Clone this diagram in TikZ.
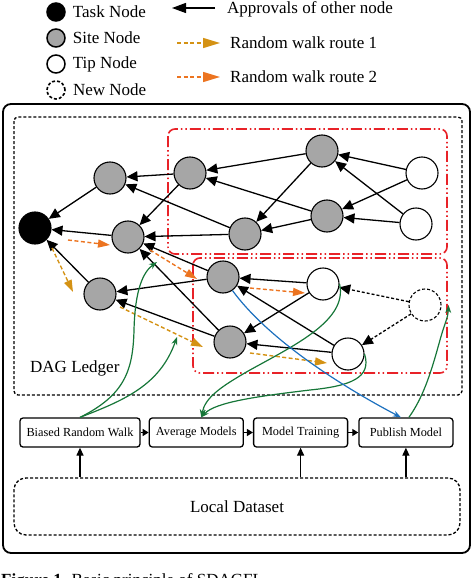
\documentclass[tikz,border=0pt]{standalone}
\usepackage{fontspec}
\setmainfont{Liberation Serif}
\usepackage{tikz}
\usetikzlibrary{positioning}
\usetikzlibrary{arrows.meta}
\usetikzlibrary{calc}
\definecolor{sitegray}{RGB}{166,166,166}
\definecolor{routeone}{RGB}{212,146,20}
\definecolor{routetwo}{RGB}{236,116,32}
\definecolor{zonered}{RGB}{232,34,40}
\definecolor{walkgreen}{RGB}{22,118,56}
\definecolor{modelblue}{RGB}{28,112,190}
\tikzset{task node/.style={circle,fill=black,draw,minimum size=32pt,inner sep=0pt,line width=1.1pt},
  site node/.style={circle,fill=sitegray,draw,minimum size=32pt,inner sep=0pt,line width=1.1pt},
  tip node/.style={circle,fill=white,draw,minimum size=32pt,inner sep=0pt,line width=1.1pt},
  new node/.style={circle,draw,dash pattern=on 3pt off 2pt,minimum size=32pt,inner sep=0pt,line width=1.1pt},
  legend text/.style={inner sep=0pt,font=\fontsize{17}{20}\selectfont},
  approve/.style={-{Triangle[length=11pt,width=10pt]},line width=1.3pt},
  route one/.style={routeone,dash pattern=on 4pt off 2.5pt,line width=1.4pt,-{Triangle[length=12pt,width=8pt]}},
  route two/.style={routetwo,dash pattern=on 4pt off 2.5pt,line width=1.4pt,-{Triangle[length=12pt,width=8pt]}},
  walk/.style={walkgreen,line width=1.2pt,-{Stealth[length=8pt,width=6pt]}},
  model/.style={modelblue,line width=1.2pt,-{Stealth[length=8pt,width=6pt]}},
  flow/.style={-{Triangle[length=8pt,width=7pt]},line width=1.3pt},
  stage/.style={draw,rounded corners=3pt,line width=1.3pt,minimum height=29pt,inner sep=0pt,font=\fontsize{12.3}{14}\selectfont},
  ledger/.style={dash pattern=on 3pt off 2pt,line width=1.3pt},
  zone/.style={zonered,line width=1.6pt,rounded corners=7pt,dash pattern=on 11pt off 3pt on 1.5pt off 3pt on 1.5pt off 3pt},
}
\begin{document}
\begin{tikzpicture}[x=1pt,y=-1pt]
    \useasboundingbox (0,0) rectangle (474,578);

    % legend
    \node[task node,minimum size=18pt,line width=1.5pt] (lt) at (56,12) {};
    \node[legend text,right=7pt of lt] (ltx) {Task Node};
    \node[site node,minimum size=18pt,line width=1.5pt] (ls) at (56,38) {};
    \node[legend text,right=7pt of ls] (lsx) {Site Node};
    \node[tip node,minimum size=18pt,line width=1.5pt] (lp) at (56,64) {};
    \node[legend text,right=7pt of lp] (lpx) {Tip Node};
    \node[new node,minimum size=18pt,line width=1.6pt] (ln) at (56,90) {};
    \node[legend text,right=7pt of ln] (lnx) {New Node};
    \coordinate (ap1) at (215,8);
    \coordinate (ap0) at (172,8);
    \draw[approve,-{Triangle[length=14pt,width=10pt]}] (ap1) -- (ap0);
    \node[legend text,right=12pt of ap1,yshift=-1.5pt] (apx) {Approvals of other node};
    \coordinate (ra0) at (177,43);
    \coordinate (ra1) at (220,43);
    \draw[route one,-{Triangle[length=17pt,width=10pt]}] (ra0) -- (ra1);
    \node[legend text,right=10pt of ra1] (rax) {Random walk route 1};
    \coordinate (rb0) at (177,77);
    \coordinate (rb1) at (220,77);
    \draw[route two,-{Triangle[length=17pt,width=10pt]}] (rb0) -- (rb1);
    \node[legend text,right=10pt of rb1] (rbx) {Random walk route 2};

    % frames
    \draw[line width=1.8pt,rounded corners=8pt] (3,104) rectangle (470,553);
    \draw[ledger,rounded corners=4pt] (14,117) rectangle (462,395);
    \draw[zone] (168,129) rectangle (447,254);
    \draw[zone] (193,258) rectangle (447,373);
    \node[legend text,anchor=west] (dag) at (30,368) {DAG Ledger};

    % DAG
    \node[task node] (t) at (35,228) {};
    \node[site node] (s1) at (110,178) {};
    \node[site node] (s2) at (128,237) {};
    \node[site node] (s3) at (100,294) {};
    \node[site node] (s4) at (190,173) {};
    \node[site node] (s5) at (322,151) {};
    \node[site node] (s6) at (327,216) {};
    \node[site node] (s7) at (245,234) {};
    \node[site node] (s8) at (223,277) {};
    \node[site node] (s9) at (230,342) {};
    \node[tip node] (p1) at (422,173) {};
    \node[tip node] (p2) at (416,224) {};
    \node[tip node] (p3) at (323,284) {};
    \node[tip node] (p4) at (348,354) {};
    \node[new node] (n) at (425,305) {};

    \path[approve]
    (s1) edge (t)
    (s2) edge (t)
    (s3) edge (t)
    (s4) edge (s1)
    (s7) edge (s1)
    (s4) edge (s2)
    (s7) edge (s2)
    (s8) edge (s2)
    (s9) edge (s2)
    (s8) edge (s3)
    (s9) edge (s3)
    (s5) edge (s4)
    (s6) edge (s4)
    (s5) edge (s7)
    (s6) edge (s7)
    (p1) edge (s5)
    (p2) edge (s5)
    (p1) edge (s6)
    (p2) edge (s6)
    (p3) edge (s8)
    (p4) edge (s8)
    (p3) edge (s9)
    (p4) edge (s9);
    \path[approve,dash pattern=on 3pt off 2pt]
    (n) edge (p3)
    (n) edge (p4);

    \draw[route one] ([shift={(17,20)}]t.center) -- ([shift={(-27,-2)}]s3.center);
    \draw[route one] ([shift={(20,13)}]s3.center) -- ([shift={(-27,5)}]s9.center);
    \draw[route one] ([shift={(20,11)}]s9.center) -- ([shift={(-21,9)}]p4.center);
    \draw[route two] ([shift={(33,12)}]t.center) -- ([shift={(-18,8)}]s2.center);
    \draw[route two] ([shift={(22,13)}]s2.center) -- ([shift={(-26,2)}]s8.center);
    \draw[route two] ([shift={(27,11)}]s8.center) -- ([shift={(-18,9)}]p3.center);

    % pipeline
    \node[stage,minimum width=120pt] (brw) at (80,432.5) {Biased Random Walk};
    \node[stage,minimum width=94pt,right=8pt of brw] (avg) {Average Models};
    \node[stage,minimum width=94pt,right=9pt of avg] (train) {Model Training};
    \node[stage,minimum width=94pt,right=10pt of train] (pub) {Publish Model};
    \node[ledger,draw,rounded corners=12pt,minimum width=446pt,minimum height=57pt,
      font=\fontsize{17}{20}\selectfont] (data) at (237,506.5) {Local Dataset};

    \draw[flow,-{Triangle[length=6pt,width=7pt]}] (brw) -- (avg);
    \draw[flow,-{Triangle[length=6pt,width=7pt]}] (avg) -- (train);
    \draw[flow,-{Triangle[length=6pt,width=7pt]}] (train) -- (pub);
    \draw[flow] (brw.south |- data.north) -- (brw.south);
    \draw[flow] (train.south |- data.north) -- (train.south);
    \draw[flow] (pub.south |- data.north) -- (pub.south);

    \draw[walk] (brw.north) .. controls (125,395) and (133,370) .. (134,330)
      .. controls (135,290) and (143,272) .. ([shift={(29,25)}]s2.center);
    \draw[walk] (brw.north) .. controls (125,400) and (160,385) .. ([shift={(-53,-5)}]s9.center);
    \draw[walk] (p3.east) .. controls (348,320) and (295,345) .. (250,370)
      .. controls (220,387) and (205,398) .. ([xshift=5pt]avg.north);
    \draw[walk] (p4.east) .. controls (372,378) and (350,386) .. (310,390)
      .. controls (260,396) and (215,402) .. ([xshift=5pt]avg.north);
    \draw[model] (s8.-55) .. controls (265,335) and (330,380) .. ([xshift=-5pt]pub.north);
    \draw[walk] ([xshift=3pt]pub.north) .. controls (425,395) and (433,365) .. (440,340)
      .. controls (445,322) and (448,318) .. ([xshift=7pt]n.east);

    \node[legend text,anchor=base west] (cap) at (1,585) {\textbf{Figure 1.} Basic principle of SDAGFL};
\end{tikzpicture}
\end{document}
